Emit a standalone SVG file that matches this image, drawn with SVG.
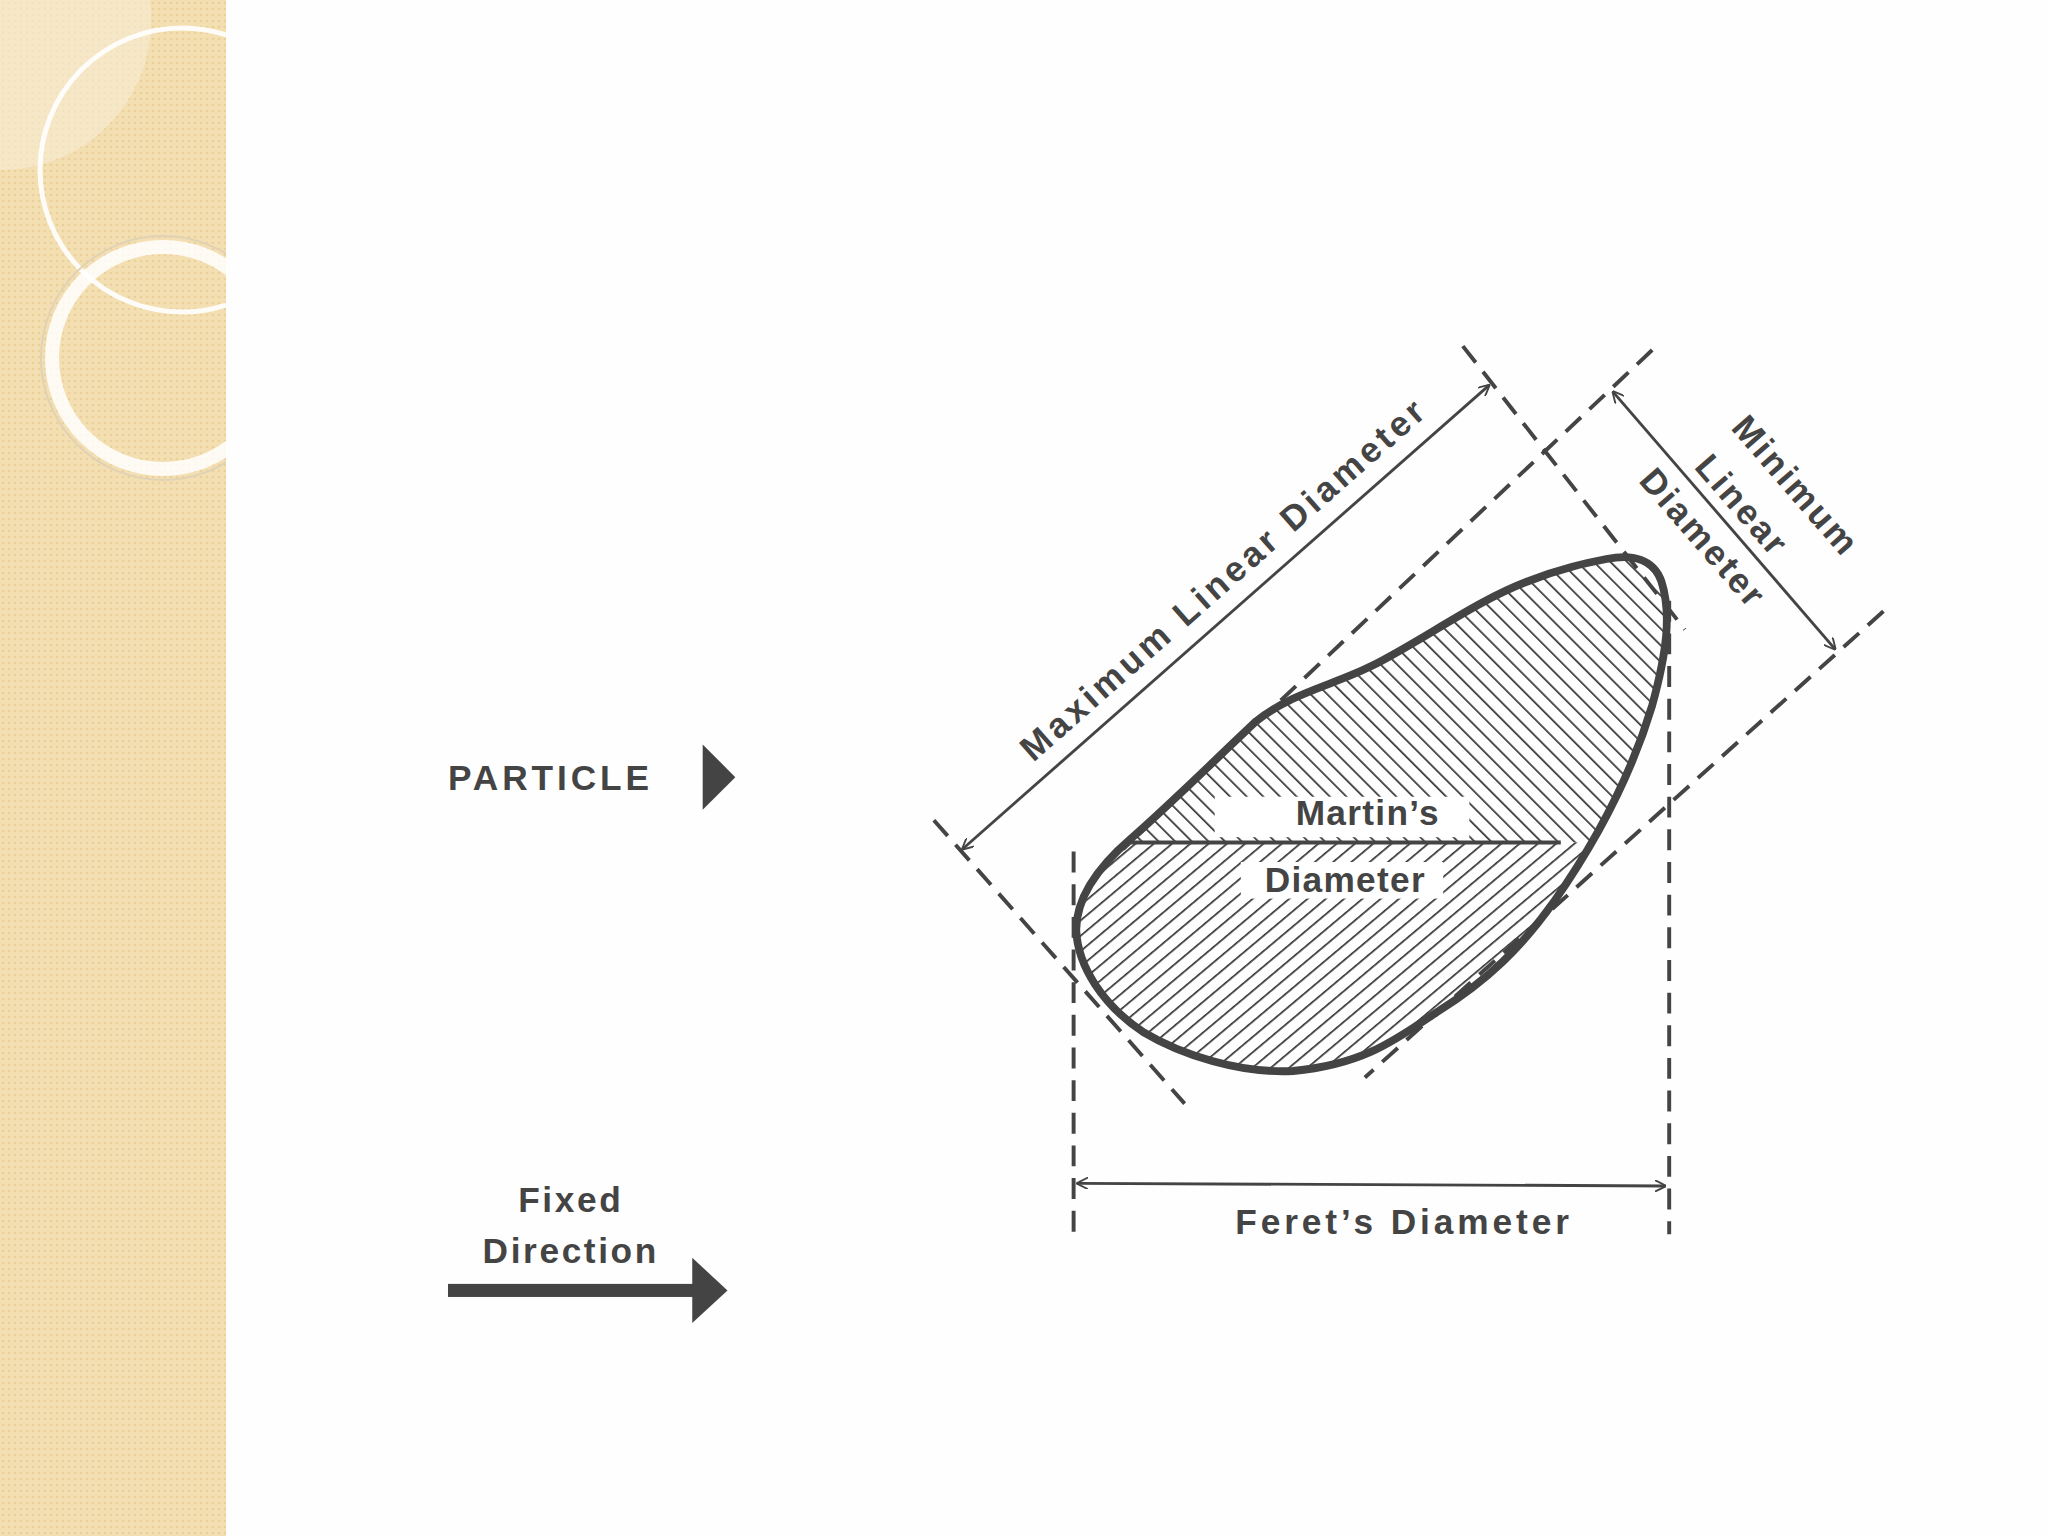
<svg xmlns="http://www.w3.org/2000/svg" width="2048" height="1536" viewBox="0 0 2048 1536">
<defs>
<pattern id="dots" width="6" height="6" patternUnits="userSpaceOnUse"><rect width="6" height="6" fill="#f4dfb2"/><circle cx="3" cy="3" r="1.3" fill="#ead09a"/></pattern>
<pattern id="hatchA" width="9" height="9" patternUnits="userSpaceOnUse" patternTransform="rotate(-45)"><line x1="0" y1="0" x2="0" y2="9" stroke="#333" stroke-width="2.6"/></pattern>
<pattern id="hatchB" width="9" height="9" patternUnits="userSpaceOnUse" patternTransform="rotate(50)"><line x1="0" y1="0" x2="0" y2="9" stroke="#333" stroke-width="2.6"/></pattern>
<clipPath id="blob"><path id="bp" d="M1230,428 C1250,424 1266,428 1272,445 C1280,470 1276,500 1265,540 C1250,590 1225,640 1190,690 C1165,725 1140,750 1100,775 C1070,795 1045,815 990,820 C950,822 905,808 875,790 C845,770 825,740 824,712 C824,685 845,660 866,642 C900,612 930,582 962,552 C990,530 1020,525 1050,510 C1090,490 1130,460 1170,445 C1195,435 1215,431 1230,428 Z"/></clipPath>
<clipPath id="strip"><rect x="0" y="0" width="226" height="1536"/></clipPath>
<marker id="ah" viewBox="0 0 10 10" refX="9" refY="5" markerWidth="9" markerHeight="9" orient="auto-start-reverse" markerUnits="userSpaceOnUse"><path d="M0,0 L10,5 L0,10" fill="none" stroke="#444" stroke-width="1.6"/></marker>
<style>
.t{font-family:"Liberation Sans",Arial,sans-serif;font-weight:bold;fill:#444;font-size:27px;letter-spacing:2px}
.d{stroke:#444;stroke-width:3;stroke-dasharray:16,9;fill:none}
.a{stroke:#444;stroke-width:2.2;fill:none;marker-start:url(#ah);marker-end:url(#ah)}
</style>
</defs>
<rect width="2048" height="1536" fill="#fefefe"/>
<g id="sidebar">
<rect x="0" y="0" width="226" height="1536" fill="url(#dots)"/>
<g clip-path="url(#strip)">
<path d="M0,0 H150 A150,150 0 0 1 0,170 Z" fill="#f7ead0" opacity="0.7"/>
<circle cx="182" cy="170" r="142" fill="none" stroke="#fff" stroke-width="5" opacity="0.9"/>
<circle cx="163" cy="358" r="111" fill="none" stroke="#fff" stroke-width="14" opacity="0.85"/>
<circle cx="163" cy="358" r="122" fill="none" stroke="#e0d2b5" stroke-width="2"/>
</g>
</g>
<g transform="scale(1.3061)">
<g id="particle">
<g clip-path="url(#blob)">
<rect x="800" y="400" width="500" height="245" fill="url(#hatchA)"/>
<rect x="800" y="645" width="500" height="200" fill="url(#hatchB)"/>
<rect x="930" y="610" width="195" height="31" fill="#fff"/>
<rect x="950" y="660" width="155" height="28" fill="#fff"/>
</g>
<use href="#bp" fill="none" stroke="#444" stroke-width="6"/>
<line x1="866" y1="645" x2="1195" y2="645" stroke="#444" stroke-width="3"/>
<text class="t" x="992" y="632" style="letter-spacing:1px">Martin’s</text>
<text class="t" x="1030" y="683" text-anchor="middle" style="letter-spacing:1px">Diameter</text>
</g>
<g id="connectors">
<line class="d" x1="715" y1="628" x2="907" y2="845"/>
<line class="d" x1="1120" y1="265" x2="1290" y2="482"/>
<line class="d" x1="1265" y1="268" x2="860" y2="650"/>
<line class="d" x1="1442" y1="468" x2="1045" y2="825"/>
<line class="d" x1="822" y1="652" x2="822" y2="945"/>
<line class="d" x1="1278" y1="460" x2="1278" y2="945"/>
<line class="a" x1="737" y1="650" x2="1140" y2="295"/>
<line class="a" x1="1235" y1="300" x2="1405" y2="497"/>
<line class="a" x1="825" y1="906" x2="1275" y2="908"/>
</g>
<g id="labels">
<text class="t" transform="translate(943,450) rotate(-41.4)" text-anchor="middle" style="letter-spacing:3px">Maximum Linear Diameter</text>
<text class="t" transform="translate(1368,378) rotate(49)" text-anchor="middle">Minimum</text>
<text class="t" transform="translate(1327,393) rotate(49)" text-anchor="middle">Linear</text>
<text class="t" transform="translate(1297,418) rotate(49)" text-anchor="middle">Diameter</text>
<text class="t" x="1075" y="945" text-anchor="middle" style="letter-spacing:3px">Feret’s Diameter</text>
</g>
<g id="particle-label">
<text class="t" x="343" y="605" style="letter-spacing:3px">PARTICLE</text>
<path d="M538,570 L563,595 L538,620 Z" fill="#444"/>
</g>
<g id="fixed-direction">
<text class="t" x="437" y="928" text-anchor="middle">Fixed</text>
<text class="t" x="437" y="967" text-anchor="middle">Direction</text>
<rect x="343" y="983" width="190" height="10" fill="#444"/>
<path d="M530,963 L557,988 L530,1013 Z" fill="#444"/>
</g>
</g>
</svg>
